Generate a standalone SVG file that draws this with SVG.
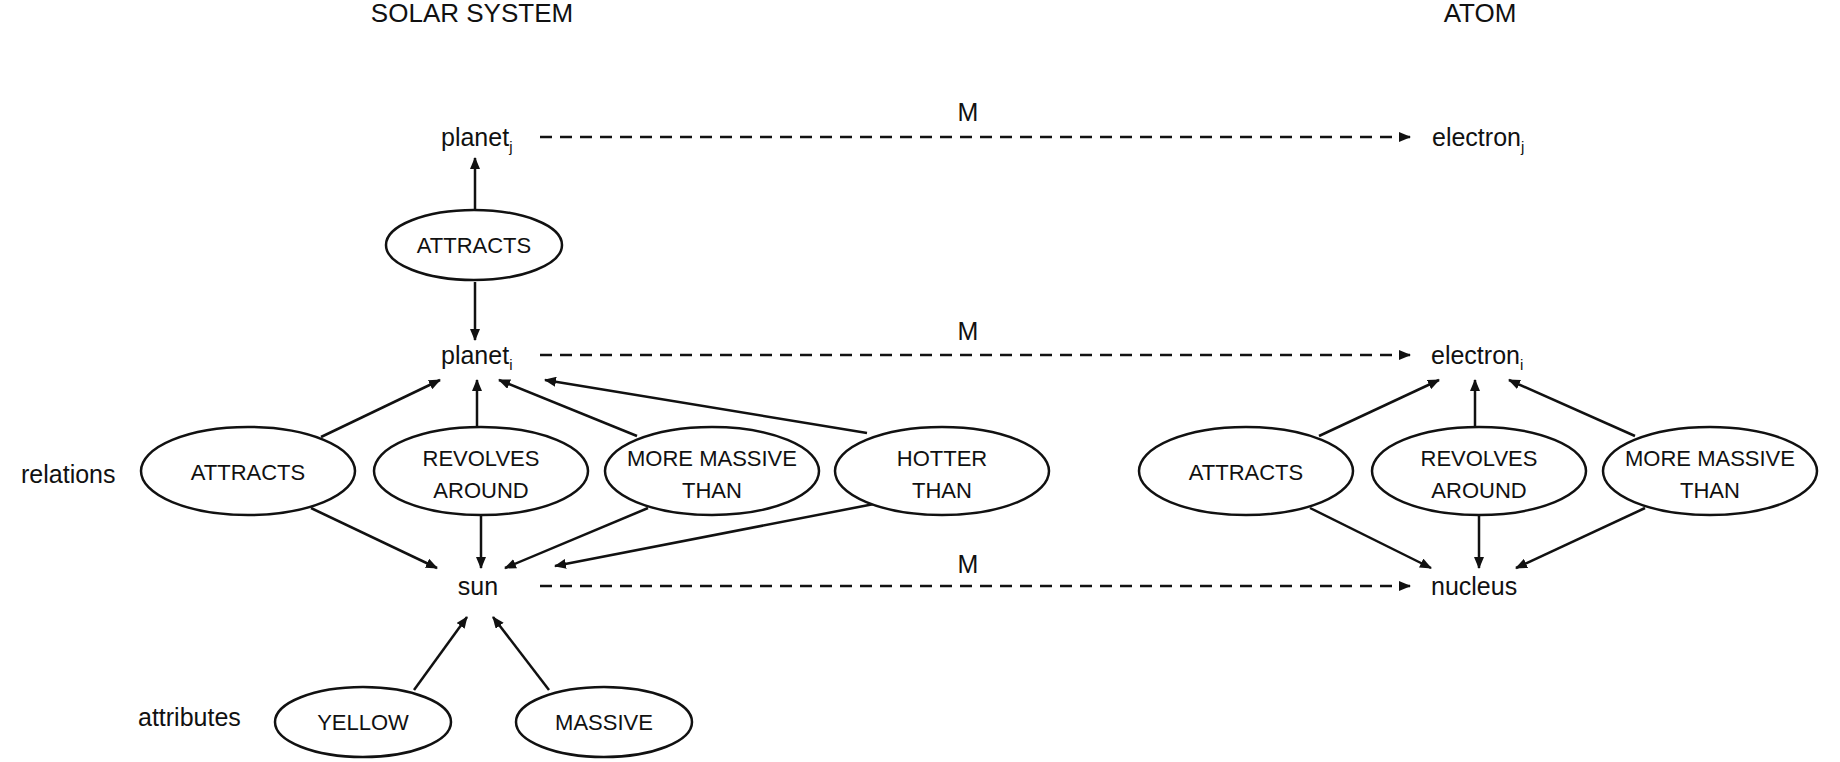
<svg xmlns="http://www.w3.org/2000/svg" width="1840" height="762" viewBox="0 0 1840 762">
<style>
text{font-family:"Liberation Sans",Arial,sans-serif;fill:#111}
.t{font-size:26px}
.n{font-size:22px;text-anchor:middle}
.l{font-size:25px}
.s{font-size:15px}
ellipse{fill:#fff;stroke:#111;stroke-width:2.5}
.c line{stroke:#111;stroke-width:2.5;marker-end:url(#a)}
.c .d{stroke-dasharray:12 8}
</style>
<defs>
<marker id="a" viewBox="0 0 12 10" refX="11" refY="5" markerWidth="12" markerHeight="10" markerUnits="userSpaceOnUse" orient="auto">
<path d="M0,0 L12,5 L0,10 z" fill="#111"/>
</marker>
</defs>
<text class="t" x="472" y="22" text-anchor="middle">SOLAR SYSTEM</text>
<text class="t" x="1480" y="22" text-anchor="middle">ATOM</text>
<text class="l" x="21" y="483">relations</text>
<text class="l" x="138" y="726">attributes</text>
<g class="c">
<line class="d" x1="540" y1="137" x2="1410" y2="137"/>
<line class="d" x1="540" y1="355" x2="1410" y2="355"/>
<line class="d" x1="540" y1="586" x2="1410" y2="586"/>
<line x1="475" y1="209" x2="475" y2="158"/>
<line x1="475" y1="282" x2="475" y2="340"/>
<line x1="321" y1="437" x2="440" y2="380"/>
<line x1="477" y1="427" x2="477" y2="380"/>
<line x1="637" y1="436" x2="499" y2="380"/>
<line x1="867" y1="433" x2="545" y2="380"/>
<line x1="311" y1="508" x2="437" y2="568"/>
<line x1="481" y1="516" x2="481" y2="568"/>
<line x1="648" y1="508" x2="505" y2="568"/>
<line x1="874" y1="504" x2="555" y2="566"/>
<line x1="414" y1="690" x2="467" y2="617"/>
<line x1="549" y1="690" x2="493" y2="617"/>
<line x1="1319" y1="436" x2="1439" y2="380"/>
<line x1="1475" y1="427" x2="1475" y2="380"/>
<line x1="1635" y1="436" x2="1509" y2="380"/>
<line x1="1310" y1="508" x2="1431" y2="568"/>
<line x1="1479" y1="516" x2="1479" y2="568"/>
<line x1="1645" y1="508" x2="1516" y2="568"/>
</g>
<text x="968" y="121" class="l" text-anchor="middle">M</text>
<text x="968" y="340" class="l" text-anchor="middle">M</text>
<text x="968" y="573" class="l" text-anchor="middle">M</text>
<g id="planet_j"><text class="l" x="441" y="146">planet<tspan class="s" dy="6">j</tspan></text></g>
<g id="planet_i"><text class="l" x="441" y="364">planet<tspan class="s" dy="6">i</tspan></text></g>
<g id="sun"><text class="l" x="478" y="595" text-anchor="middle">sun</text></g>
<g id="electron_j"><text class="l" x="1432" y="146">electron<tspan class="s" dy="6">j</tspan></text></g>
<g id="electron_i"><text class="l" x="1431" y="364">electron<tspan class="s" dy="6">i</tspan></text></g>
<g id="nucleus"><text class="l" x="1431" y="595">nucleus</text></g>
<g id="attracts_top"><ellipse cx="474" cy="245" rx="88" ry="35"/><text class="n" x="474" y="253">ATTRACTS</text></g>
<g id="s_attracts"><ellipse cx="248" cy="471" rx="107" ry="44"/><text class="n" x="248" y="480">ATTRACTS</text></g>
<g id="s_revolves"><ellipse cx="481" cy="471" rx="107" ry="44"/><text class="n" x="481" y="466">REVOLVES</text><text class="n" x="481" y="498">AROUND</text></g>
<g id="s_massive"><ellipse cx="712" cy="471" rx="107" ry="44"/><text class="n" x="712" y="466">MORE MASSIVE</text><text class="n" x="712" y="498">THAN</text></g>
<g id="s_hotter"><ellipse cx="942" cy="471" rx="107" ry="44"/><text class="n" x="942" y="466">HOTTER</text><text class="n" x="942" y="498">THAN</text></g>
<g id="a_attracts"><ellipse cx="1246" cy="471" rx="107" ry="44"/><text class="n" x="1246" y="480">ATTRACTS</text></g>
<g id="a_revolves"><ellipse cx="1479" cy="471" rx="107" ry="44"/><text class="n" x="1479" y="466">REVOLVES</text><text class="n" x="1479" y="498">AROUND</text></g>
<g id="a_massive"><ellipse cx="1710" cy="471" rx="107" ry="44"/><text class="n" x="1710" y="466">MORE MASSIVE</text><text class="n" x="1710" y="498">THAN</text></g>
<g id="yellow"><ellipse cx="363" cy="722" rx="88" ry="35"/><text class="n" x="363" y="730">YELLOW</text></g>
<g id="massive"><ellipse cx="604" cy="722" rx="88" ry="35"/><text class="n" x="604" y="730">MASSIVE</text></g>
</svg>
